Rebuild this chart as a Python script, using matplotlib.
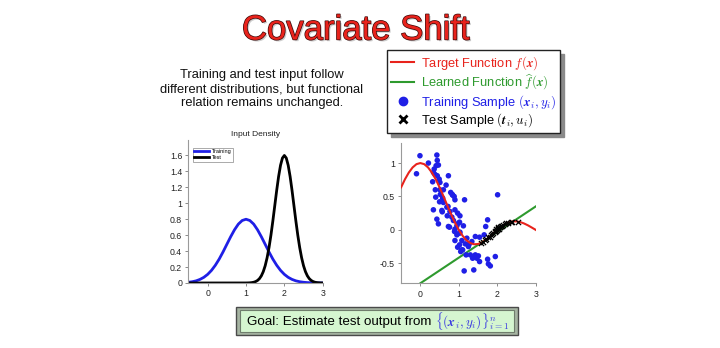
import matplotlib.pyplot as plt
import matplotlib.patheffects as pe
from matplotlib.lines import Line2D
from matplotlib.patches import Rectangle

# input densities
train_dens_x = [-0.5, -0.4, -0.3, -0.2, -0.1, 0.0, 0.1, 0.2, 0.3, 0.4, 0.5, 0.6, 0.7, 0.8, 0.9,
                1.0, 1.1, 1.2, 1.3, 1.4, 1.5, 1.6, 1.7, 1.8, 1.9, 2.0, 2.1, 2.2, 2.3, 2.4,
                2.5, 2.6, 2.7, 2.8, 2.9, 3.0]
train_dens_y = [0.009, 0.016, 0.027, 0.045, 0.071, 0.108, 0.158, 0.222, 0.299, 0.388, 0.484,
                0.579, 0.666, 0.737, 0.782, 0.798, 0.782, 0.737, 0.666, 0.579, 0.484, 0.388,
                0.299, 0.222, 0.158, 0.108, 0.071, 0.045, 0.027, 0.016, 0.009, 0.005, 0.003,
                0.001, 0.001, 0.0]
test_dens_x = [-0.5, 1.0, 1.05, 1.1, 1.15, 1.2, 1.25, 1.3, 1.35, 1.4, 1.45, 1.5, 1.55, 1.6, 1.65,
               1.7, 1.75, 1.8, 1.85, 1.9, 1.95, 2.0, 2.05, 2.1, 2.15, 2.2, 2.25, 2.3, 2.35,
               2.4, 2.45, 2.5, 2.55, 2.6, 2.65, 2.7, 2.75, 2.8, 2.85, 2.9, 2.95, 3.0]
test_dens_y = [0.0, 0.0005, 0.0012, 0.0024, 0.0049, 0.0095, 0.0177, 0.0317, 0.0543, 0.0896,
               0.142, 0.216, 0.316, 0.444, 0.599, 0.777, 0.968, 1.159, 1.333, 1.473, 1.564,
               1.596, 1.564, 1.473, 1.333, 1.159, 0.968, 0.777, 0.599, 0.444, 0.316, 0.216,
               0.142, 0.0896, 0.0543, 0.0317, 0.0177, 0.0095, 0.0049, 0.0024, 0.0012, 0.0005]

# target function (red) and learned function (green)
target_x = [-0.5, -0.4, -0.3, -0.2, -0.1, 0.0, 0.1, 0.2, 0.3, 0.4, 0.5, 0.6, 0.7, 0.8, 0.9,
            1.0, 1.1, 1.2, 1.3, 1.4, 1.5, 1.6, 1.7, 1.8, 1.9, 2.0, 2.1, 2.2, 2.3, 2.4,
            2.5, 2.6, 2.7, 2.8, 2.9, 3.0]
target_y = [0.637, 0.757, 0.858, 0.935, 0.984, 1.0, 0.984, 0.935, 0.858, 0.757, 0.637, 0.505,
            0.368, 0.234, 0.109, 0.0, -0.089, -0.156, -0.198, -0.216, -0.212, -0.189, -0.151,
            -0.104, -0.052, 0.0, 0.047, 0.085, 0.112, 0.126, 0.127, 0.116, 0.095, 0.067,
            0.034, 0.0]
learned_x = [0.0, 3.0]
learned_y = [-0.80, 0.35]

# training samples (blue dots)
train_x = [-0.10, -0.01, 0.21, 0.43, 0.44, 0.41, 0.36, 0.34, 0.38, 0.44, 0.49, 0.32, 0.51,
           0.73, 0.67, 0.39, 0.51, 0.60, 0.79, 0.83, 0.40, 0.58, 0.90, 0.50, 0.60, 1.15,
           0.69, 0.34, 0.57, 0.77, 0.90, 0.97, 0.70, 0.82, 1.03, 0.43, 0.86, 0.47, 1.02,
           0.76, 0.95, 0.90, 1.12, 1.03, 0.95, 0.90, 1.21, 1.08, 1.17, 0.97, 1.08, 1.25,
           1.34, 1.43, 1.54, 1.66, 1.75, 1.70, 2.01, 1.30, 1.43, 1.47, 1.54, 1.75, 1.95,
           1.77, 1.82, 1.14, 1.39, 1.19, 1.05, 0.47, 0.52, 0.88, 0.72, 0.56, 0.99, 0.73,
           0.89, 1.02, 1.02, 1.27, 1.10, 1.36, 1.51, 0.84]
train_y = [0.84, 1.11, 1.00, 1.12, 1.04, 0.96, 0.91, 0.86, 0.83, 0.81, 0.76, 0.72, 0.71,
           0.81, 0.67, 0.60, 0.60, 0.60, 0.56, 0.53, 0.49, 0.475, 0.45, 0.42, 0.41, 0.45,
           0.34, 0.30, 0.27, 0.275, 0.30, 0.25, 0.21, 0.19, 0.21, 0.16, 0.14, 0.09, 0.115,
           0.04, 0.06, 0.01, 0.06, -0.035, -0.075, -0.16, -0.125, -0.16, -0.21, -0.26,
           -0.30, -0.25, -0.175, -0.10, -0.11, -0.075, 0.15, 0.05, 0.525, -0.375, -0.375,
           -0.425, -0.475, -0.44, -0.40, -0.51, -0.54, -0.615, -0.60, -0.375, -0.325, 0.97,
           0.53, 0.50, 0.35, 0.29, 0.10, 0.05, -0.025, -0.05, -0.225, -0.215, -0.30, -0.425,
           -0.39, 0.52]

# test samples (black crosses)
test_x = [1.57, 1.62, 1.68, 1.71, 1.77, 1.80, 1.83, 1.87, 1.90, 1.93, 1.95, 1.97, 1.98, 2.00,
          2.01, 2.02, 2.03, 2.05, 2.06, 2.08, 2.10, 2.12, 2.15, 2.20, 2.24, 2.29, 2.35, 2.38,
          2.55]
test_y = [-0.20, -0.18, -0.15, -0.14, -0.11, -0.10, -0.075, -0.06, -0.05, -0.03, -0.02, -0.01,
          0.02, 0.0, 0.03, 0.01, 0.04, 0.02, 0.05, 0.04, 0.06, 0.06, 0.07, 0.09, 0.10, 0.10,
          0.11, 0.11, 0.12]

plt.rcParams['font.family'] = ['Liberation Sans', 'DejaVu Sans']
plt.rcParams['mathtext.fontset'] = 'cm'

RED = '#e8231c'
GREEN = '#2e9a2e'
BLUE = '#1f1fe6'

fig = plt.figure(figsize=(7.2, 3.48), dpi=100)
fig.patch.set_facecolor('white')

# title
fig.text(356 / 720, 1 - 30 / 348, 'Covariate Shift', ha='center', va='center',
         fontsize=25, color=RED,
         path_effects=[pe.SimplePatchShadow(offset=(1.2, -1.2), shadow_rgbFace='#999999', alpha=0.5),
                       pe.Stroke(linewidth=1.0, foreground='#3a0808'), pe.Normal()])

fig.text(262 / 720, 1 - 89 / 348,
         'Training and test input follow\ndifferent distributions, but functional\n'
         'relation remains unchanged.',
         ha='center', va='center', fontsize=9.3, linespacing=1.25, color='#111111')


def style_axes(ax):
    for side in ['top', 'right']:
        ax.spines[side].set_visible(False)
    for side in ['left', 'bottom']:
        ax.spines[side].set_color('#9a9a9a')
        ax.spines[side].set_linewidth(0.8)
    ax.tick_params(labelsize=6.3, length=2, width=0.6, color='#777777',
                   labelcolor='#222222', pad=2.5)


# left panel: input densities
ax1 = fig.add_axes([0.2618, 0.1868, 0.1864, 0.411])
ax1.plot(train_dens_x, train_dens_y, color=BLUE, lw=2.0, label='Training')
ax1.plot(test_dens_x, test_dens_y, color='black', lw=2.0, label='Test')
ax1.set_xlim(-0.5, 3)
ax1.set_ylim(0, 1.79)
ax1.set_xticks([0, 1, 2, 3])
ax1.set_xticklabels(['0', '1', '2', '3'])
ax1.set_yticks([0, 0.2, 0.4, 0.6, 0.8, 1.0, 1.2, 1.4, 1.6])
ax1.set_yticklabels(['0', '0.2', '0.4', '0.6', '0.8', '1', '1.2', '1.4', '1.6'])
ax1.set_title('Input Density', fontsize=6, pad=3, color='#222222')
style_axes(ax1)
leg1 = ax1.legend(loc='upper left', bbox_to_anchor=(0.01, 0.965), fontsize=4,
                  handlelength=2.6, handletextpad=0.6, borderpad=0.3, labelspacing=0.15,
                  fancybox=False, edgecolor='#888888', framealpha=1)
leg1.get_frame().set_linewidth(0.5)

# right panel: samples and functions
ax2 = fig.add_axes([0.5571, 0.186, 0.1869, 0.403])
ax2.plot(learned_x, learned_y, color=GREEN, lw=1.5, zorder=2)
ax2.scatter(train_x, train_y, s=16, color=BLUE, edgecolors='none', zorder=3)
ax2.plot(target_x, target_y, color=RED, lw=1.5, zorder=4)
ax2.scatter(test_x, test_y, s=14, marker='x', color='black', linewidths=0.9, zorder=5)
ax2.set_xlim(-0.5, 3)
ax2.set_ylim(-0.8, 1.3)
ax2.set_xticks([0, 1, 2, 3])
ax2.set_xticklabels(['0', '1', '2', '3'])
ax2.set_yticks([-0.5, 0, 0.5, 1])
ax2.set_yticklabels(['-0.5', '0', '0.5', '1'])
style_axes(ax2)

# legend box on the right
handles = [Line2D([], [], color=RED, lw=1.5),
           Line2D([], [], color=GREEN, lw=1.5),
           Line2D([], [], color=BLUE, marker='o', ls='none', markersize=6),
           Line2D([], [], color='black', marker='x', ls='none', markersize=6, mew=2)]
labels = [r'Target Function $f(\boldsymbol{x})$',
          r'Learned Function $\widehat{f}(\boldsymbol{x})$',
          r'Training Sample $(\boldsymbol{x}_i, y_i)$',
          r'Test Sample $(\boldsymbol{t}_i, u_i)$']
leg2 = fig.legend(handles, labels, loc='upper left', bbox_to_anchor=(387 / 720, 1 - 50 / 348),
                  fontsize=9.3, handlelength=1.8, handletextpad=0.5, borderpad=0.3,
                  labelspacing=0.06, fancybox=False, edgecolor='#222222', framealpha=1,
                  borderaxespad=0, shadow={'color': '#8a8a8a', 'alpha': 1, 'ox': 3, 'oy': -3})
for txt, col in zip(leg2.get_texts(), [RED, GREEN, BLUE, 'black']):
    txt.set_color(col)

# goal box
fig.add_artist(Rectangle((236 / 720, 1 - 335 / 348), 281.7 / 720, 28.3 / 348,
                         transform=fig.transFigure, facecolor='#a6b4a2',
                         edgecolor='#4a4a4a', lw=1.0))
fig.add_artist(Rectangle((239.5 / 720, 1 - 331.5 / 348), 274.7 / 720, 21.3 / 348,
                         transform=fig.transFigure, facecolor='#d5f6d0',
                         edgecolor='#6f7d6c', lw=0.8))
goal = fig.text(246.7 / 720, 1 - 321.5 / 348, 'Goal: Estimate test output from ',
                ha='left', va='center', fontsize=9.6, color='black')
fig.add_artist(plt.Annotation(r'$\{(\boldsymbol{x}_i, y_i)\}_{i=1}^{n}$', xy=(1, 0.5),
                              xycoords=goal, ha='left', va='center', fontsize=9.6,
                              color='#3a3ae0', annotation_clip=False))

fig.savefig('out.png', dpi=100, facecolor='white')
